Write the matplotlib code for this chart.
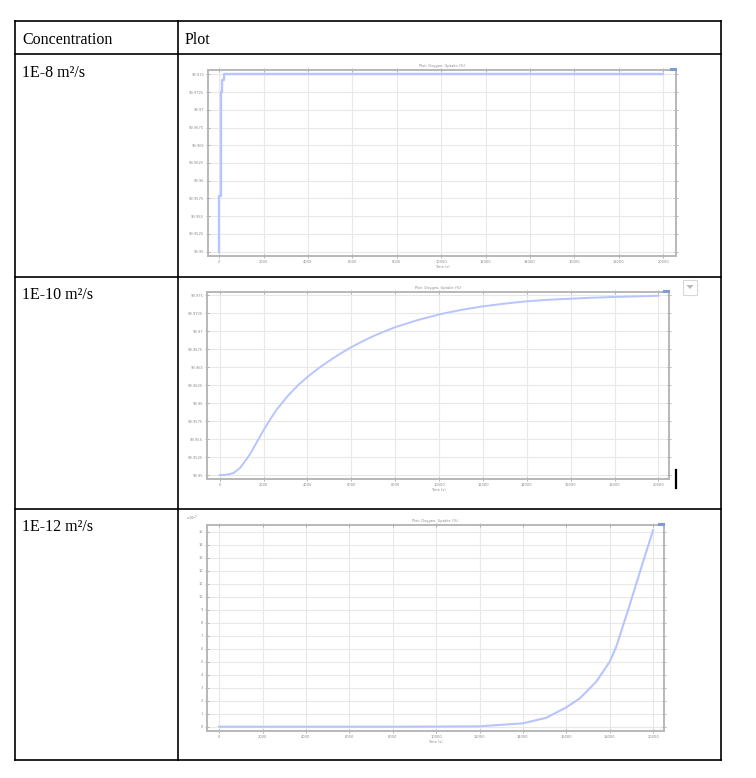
import matplotlib
matplotlib.use("Agg")
import matplotlib.pyplot as plt
from matplotlib.patches import Rectangle, Polygon

W, H = 756, 778

# row labels of the table
header = ["Concentration", "Plot"]
row_labels = ["1E-8 m\u00b2/s", "1E-10 m\u00b2/s", "1E-12 m\u00b2/s"]

# x axis of every plot: time (s)
x_ticks = [0, 2000, 4000, 6000, 8000, 10000, 12000, 14000, 16000, 18000, 20000]

# plot 1 (1E-8): fast step up
time1 = [0, 0, 100, 100, 150, 150, 220, 220, 20000]
conc1 = [99.95, 99.9579, 99.9579, 99.9725, 99.9725, 99.97425, 99.97425, 99.975, 99.975]

# plot 2 (1E-10): smooth rise to saturation
time2 = [0, 180, 480, 640, 940, 1160, 1400, 1700, 2000, 2300, 2600, 3100, 3600,
         4040, 4500, 5040, 5500, 5940, 6500, 7000, 7500, 8000, 8980, 10040, 11000,
         12000, 13000, 13980, 15000, 16020, 17000, 17920, 19000, 20000]
conc2 = [99.95, 99.95, 99.95015, 99.9503, 99.95103, 99.95195, 99.953, 99.95463,
         99.95625, 99.95775, 99.95913, 99.961, 99.9626, 99.96375, 99.96485, 99.966,
         99.9669, 99.9677, 99.9686, 99.96933, 99.96998, 99.97058, 99.97153, 99.97238,
         99.97298, 99.97348, 99.97386, 99.97418, 99.9744, 99.97455, 99.97468,
         99.97478, 99.97486, 99.97495]

# plot 3 (1E-12): slow exponential, values in 1e-7
time3 = [0, 8000, 10000, 12000, 14000, 15080, 16000, 16620, 17380, 18000,
         18300, 18920, 19540, 20000]
conc3 = [0, 0.0, 0.01, 0.03, 0.26, 0.69, 1.49, 2.18, 3.46, 5.0, 6.15, 9.36, 12.7, 15.1]

y1_ticks = [99.95 + 0.0025 * i for i in range(11)]
y3_ticks = list(range(16))

fig = plt.figure(figsize=(W / 100, H / 100), dpi=100)
fig.patch.set_facecolor("white")

# background axes in pixel coordinates for the table
bg = fig.add_axes([0, 0, 1, 1])
bg.set_xlim(0, W)
bg.set_ylim(H, 0)
bg.axis("off")

left, right, mid = 15, 721, 178
rows = [20.5, 54, 277, 509, 760]
for y in rows:
    bg.plot([left, right], [y, y], color="black", lw=1.2, solid_capstyle="projecting")
for x in [left, mid, right]:
    bg.plot([x, x], [rows[0], rows[-1]], color="black", lw=1.2, solid_capstyle="projecting")

tfont = dict(family="Liberation Serif", fontsize=11.5, color="black", va="baseline")
bg.text(22, 43.5, header[0], **tfont)
bg.text(185, 43.5, header[1], **tfont)
for lab, yb in zip(row_labels, [77, 299, 531]):
    bg.text(22, yb, lab, **tfont)

# screenshot leftovers: dropdown box and cursor bar
bg.add_patch(Rectangle((683, 280), 14, 15, fill=False, ec="#d8d8d8", lw=0.8))
bg.add_patch(Polygon([[686.5, 285], [693.5, 285], [690, 289]], closed=True,
                     fc="#b8b8b8", ec="none"))
bg.plot([676, 676], [470, 488], color="black", lw=1.6)

line_c = "#b8c4ff"
small = 2.6
lab_c = "#8a8a8a"


def make_axes(box, xlim, ylim):
    l, t, r, b = box
    ax = fig.add_axes([l / W, 1 - b / H, (r - l) / W, (b - t) / H])
    ax.set_xlim(*xlim)
    ax.set_ylim(*ylim)
    for s in ax.spines.values():
        s.set_color("#b8b8b8")
        s.set_linewidth(1.4)
    ax.grid(True, color="#e8e8e8", lw=0.8)
    ax.set_axisbelow(True)
    ax.tick_params(axis="both", which="both", direction="inout", length=2.5, width=0.5,
                   color="#9a9a9a", labelsize=small, labelcolor=lab_c, pad=1.5,
                   top=True, right=True)
    ax.set_xticks(x_ticks)
    ax.set_xticklabels([str(v) for v in x_ticks])
    ax.set_xlabel("Time (s)", fontsize=small, color=lab_c, labelpad=0.5)
    ax.set_title("Plot: Oxygen, Uptake (%)", fontsize=small, color=lab_c, pad=2)
    return ax


def add_legend(ax):
    leg = ax.legend(loc="lower right", bbox_to_anchor=(1.0, 1.0), fontsize=1.5,
                    frameon=False, handlelength=1.6, borderpad=0.1, handletextpad=0.1,
                    borderaxespad=0.2)
    for h in leg.get_lines():
        h.set_linewidth(2.2)
        h.set_color("#7f9bd8")


# plot 1
ax1 = make_axes((208, 70, 676, 256), (-0.25 * 2000, 10.29 * 2000),
                (99.95 - 0.24 * 0.0025, 99.95 + 10.24 * 0.0025))
ax1.plot(time1, conc1, color=line_c, lw=1.7, label=" ")
ax1.set_yticks(y1_ticks)
ax1.set_yticklabels([f"{v:g}" for v in y1_ticks])
add_legend(ax1)

# plot 2
ax2 = make_axes((207, 292, 669, 479), (-0.29 * 2000, 10.24 * 2000),
                (99.95 - 0.22 * 0.0025, 99.95 + 10.19 * 0.0025))
ax2.plot(time2, conc2, color=line_c, lw=1.4, label=" ")
ax2.set_yticks(y1_ticks)
ax2.set_yticklabels([f"{v:g}" for v in y1_ticks])
add_legend(ax2)

# plot 3
ax3 = make_axes((207, 525, 664, 731), (-0.28 * 2000, 10.25 * 2000), (-0.33, 15.5))
ax3.plot(time3, conc3, color=line_c, lw=1.5, label=" ")
ax3.set_yticks(y3_ticks)
ax3.set_yticklabels([str(v) for v in y3_ticks])
ax3.text(-0.02, 1.01, "x10$^{-7}$", transform=ax3.transAxes, fontsize=small,
         color=lab_c, ha="right", va="bottom")
add_legend(ax3)

fig.savefig("out.png", dpi=100, facecolor="white")
